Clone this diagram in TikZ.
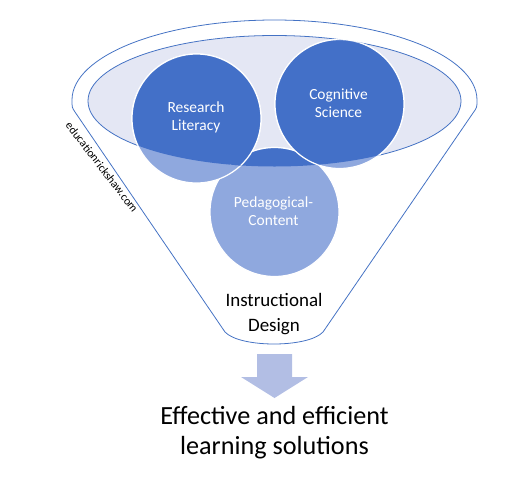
\documentclass[tikz,border=0pt]{standalone}
\usepackage{fontspec}
\setmainfont{Carlito}
\usetikzlibrary{positioning,shapes.geometric}
\definecolor{FunnelBlue}{RGB}{68,114,196}
\definecolor{DiscDark}{RGB}{67,112,200}
\definecolor{DiscLight}{RGB}{143,168,222}
\definecolor{LensFill}{RGB}{228,231,244}
\definecolor{ArrowFill}{RGB}{178,190,228}
\tikzset{
  outline/.style={draw=FunnelBlue,line width=0.45pt},
  lens/.style={ellipse,outline,fill=LensFill,minimum width=7.46cm,minimum height=2.62cm,inner sep=0pt},
  lightdisc/.style={circle,draw=white,line width=0.7pt,fill=DiscLight,minimum size=2.58cm,inner sep=0pt},
  darkdisc/.style={lightdisc,fill=DiscDark},
  disctext/.style={text=white,align=center,font=\fontsize{8.8}{10.2}\selectfont},
  label/.style={text=black,align=center,font=\fontsize{10.8}{13.7}\selectfont},
  result/.style={text=black,align=center,font=\fontsize{14.9}{16.7}\selectfont},
  sitetag/.style={text=black,font=\fontsize{6.6}{7.5}\selectfont,inner sep=1pt}
}
\begin{document}
\begin{tikzpicture}[x=1cm,y=1cm]
  \useasboundingbox (0,0) rectangle (10.28,9.8);
  % funnel body
  \draw[outline,fill=white] (1.5,7.56) -- (4.5,3.16) .. controls (4.8,2.84) and (6.16,2.84) .. (6.46,3.16)
    -- (9.46,7.54) .. controls (9.54,7.65) .. (9.54,7.8)
    arc[start angle=0,end angle=180,x radius=4.05,y radius=1.6] .. controls (1.44,7.65) .. cycle;
  \node[lens] (top) at (5.49,7.78) {};
  % discs, light below the rim
  \node[lightdisc] (ped) at (5.49,5.56) {};
  \node[lightdisc] (res) at (3.93,7.43) {};
  \node[lightdisc] (cog) at (6.79,7.72) {};
  % discs, dark inside the rim
  \begin{scope}
    \clip (5.49,7.78) ellipse [x radius=3.73,y radius=1.31];
    \node[darkdisc] (pedD) at (ped.center) {};
    \node[darkdisc] (resD) at (res.center) {};
    \node[darkdisc] (cogD) at (cog.center) {};
  \end{scope}
  \node[disctext] (resT) at (3.92,7.46) {Research\\Literacy};
  \node[disctext] (cogT) at (6.77,7.74) {Cognitive\\Science};
  \node[disctext] (pedT) at (5.47,5.58) {Pedagogical-\\Content};
  \node[label] (idT) at (5.48,3.52) {Instructional\\Design};
  \node[sitetag,rotate=-52.5] (site) at (2.04,6.46) {educationrickshaw.com};
  % output arrow
  \fill[ArrowFill] (5.14,2.72) -- (5.84,2.72) -- (5.84,2.26) -- (6.16,2.26) -- (5.49,1.84)
    -- (4.82,2.26) -- (5.14,2.26) -- cycle;
  \node[result] (out) at (5.49,1.15) {Effective and efficient\\learning solutions};
\end{tikzpicture}
\end{document}
